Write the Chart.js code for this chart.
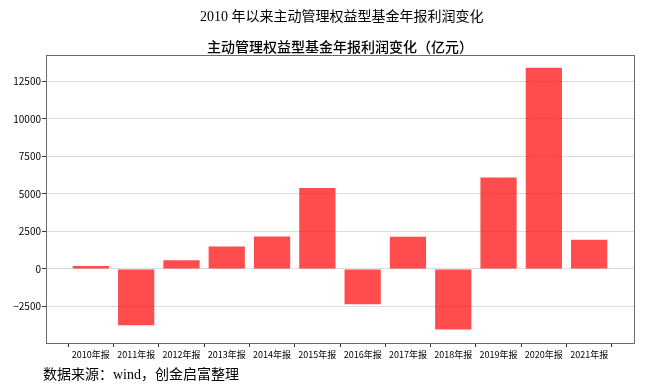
<!DOCTYPE html>
<html>
<head>
<meta charset="utf-8">
<script src="https://cdn.jsdelivr.net/npm/chart.js@4.4.1/dist/chart.umd.min.js"></script>
<style>
    body { margin: 0; background: #fff; }
    #wrap { position: relative; width: 659px; height: 387px; }
    #outerTitle {
        position: absolute; left: 200px; top: 7px;
        font: 14px "Liberation Serif", "Noto Sans CJK SC", serif;
        line-height: 20px; color: #000; white-space: nowrap;
    }
    #source {
        position: absolute; left: 43px; top: 365px;
        font: 14px "Liberation Serif", "Noto Sans CJK SC", serif;
        line-height: 20px; color: #000; white-space: nowrap;
    }
</style>
</head>
<body>
<div id="wrap">
    <canvas id="profitChart" width="659" height="387"></canvas>
    <div id="outerTitle">2010 年以来主动管理权益型基金年报利润变化</div>
    <div id="source">数据来源：wind，创金启富整理</div>
</div>
<script>
// Annual report profit of actively managed equity funds (100 million yuan)
const years = ['2010年报', '2011年报', '2012年报', '2013年报', '2014年报', '2015年报',
               '2016年报', '2017年报', '2018年报', '2019年报', '2020年报', '2021年报'];
const profits = [200, -3750, 580, 1500, 2170, 5400, -2350, 2150, -4030, 6100, 13400, 1950];
const yTicks = [-2500, 0, 2500, 5000, 7500, 10000, 12500];

// Draw the full box around the plot like matplotlib spines
const frameBox = {
    id: 'frameBox',
    afterDatasetsDraw(chart) {
        const { ctx, chartArea: a } = chart;
        ctx.save();
        ctx.strokeStyle = '#6b6b6b';
        ctx.lineWidth = 1;
        ctx.strokeRect(Math.round(a.left) + 0.5, Math.round(a.top) + 0.5,
                       Math.round(a.right - a.left), Math.round(a.bottom - a.top));
        ctx.restore();
    }
};

function drawChart() {
    const ctx = document.getElementById('profitChart').getContext('2d');
    new Chart(ctx, {
        type: 'bar',
        data: {
            datasets: [{
                label: '利润',
                data: profits.map((v, i) => ({ x: i, y: v })),
                backgroundColor: 'rgba(255, 0, 0, 0.7)',
                borderWidth: 0,
                categoryPercentage: 1,
                barPercentage: 0.8
            }]
        },
        options: {
            responsive: false,
            animation: false,
            layout: { padding: { left: 0, right: 25, top: 0, bottom: 0 } },
            scales: {
                x: {
                    type: 'linear',
                    offset: false,
                    min: -0.99,
                    max: 11.99,
                    afterBuildTicks: axis => { axis.ticks = years.map((_, i) => ({ value: i })); },
                    afterFit: axis => { axis.height = 44; },
                    border: { display: false },
                    grid: { drawOnChartArea: false, drawTicks: true, tickLength: 4, tickColor: '#333' },
                    ticks: {
                        padding: 2,
                        maxRotation: 0,
                        autoSkip: false,
                        color: '#000',
                        font: { family: 'Noto Sans CJK SC', size: 9 },
                        callback: v => years[v]
                    }
                },
                y: {
                    min: -4930,
                    max: 14270,
                    afterBuildTicks: axis => { axis.ticks = yTicks.map(v => ({ value: v })); },
                    afterFit: axis => { axis.width = 46; },
                    border: { display: false },
                    grid: { color: '#dcdcdc', lineWidth: 1, drawTicks: true, tickLength: 4, tickColor: '#333' },
                    ticks: {
                        padding: 1,
                        color: '#000',
                        font: { family: 'Noto Sans CJK SC', size: 10 },
                        callback: v => (v < 0 ? '\u2212' + Math.abs(v) : String(v))
                    }
                }
            },
            plugins: {
                legend: { display: false },
                tooltip: { enabled: false },
                title: {
                    display: true,
                    fullSize: false,
                    text: '主动管理权益型基金年报利润变化（亿元）',
                    color: '#000',
                    font: { family: 'Noto Sans CJK SC', size: 14, weight: '500' },
                    padding: { top: 38, bottom: 0 }
                }
            }
        },
        plugins: [frameBox]
    });
}

document.addEventListener('DOMContentLoaded', drawChart);
</script>
</body>
</html>
